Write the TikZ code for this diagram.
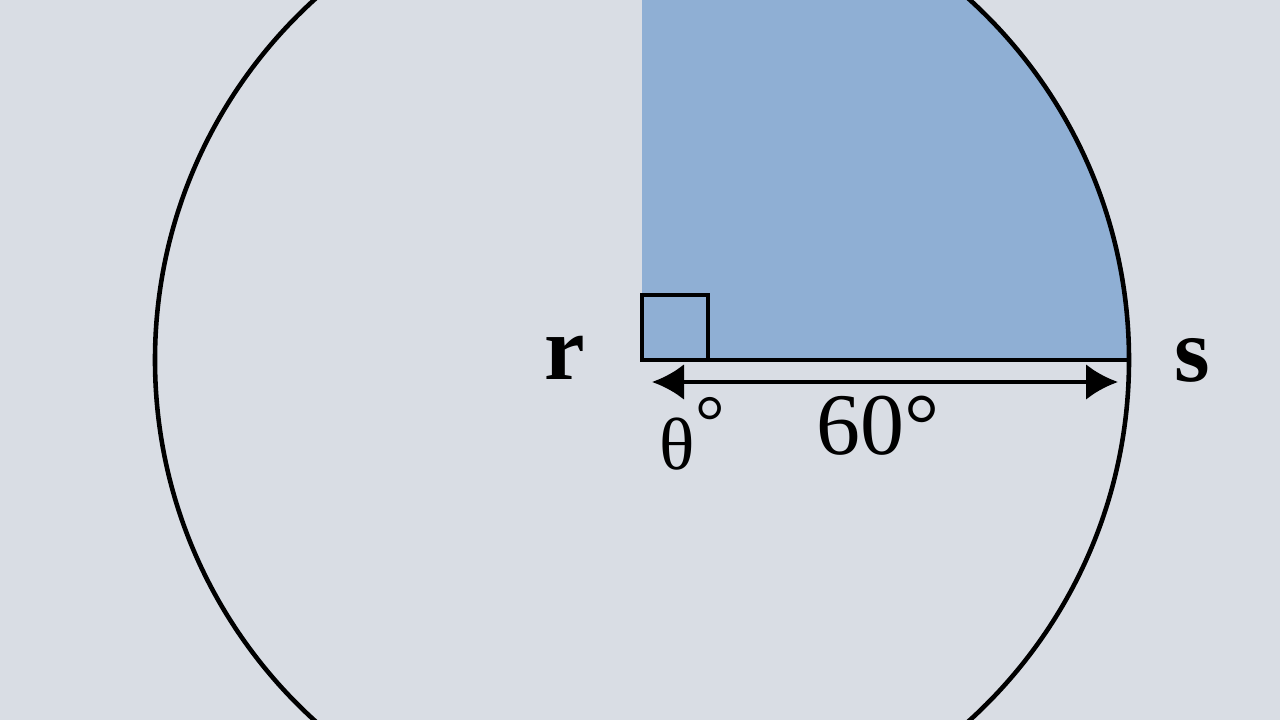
\documentclass[tikz,border=0pt]{standalone}
\usepackage{fontspec}
\setmainfont{Liberation Serif}
\usetikzlibrary{arrows.meta}
\definecolor{bgcol}{RGB}{217,221,228}
\definecolor{sectorcol}{RGB}{143,175,212}
\tikzset{
  edge/.style={line width=1.3pt, black},
  lbl/.style={inner sep=0pt}
}
\begin{document}
\begin{tikzpicture}
\coordinate[](O) at (0,0);
\coordinate[](S) at (4.87,0);
\coordinate[](L) at (0.10,-0.22);
\coordinate[](R) at (4.76,-0.22);
\useasboundingbox (-6.42,-3.6) rectangle (6.38,3.6);
\clip (-6.42,-3.6) rectangle (6.38,3.6);
\fill[bgcol] (-6.42,-3.6) rectangle (6.38,3.6);

\fill[sectorcol] (O) -- (S) arc (0:90:4.87) -- cycle;
\draw[edge] (O) circle (4.87);
\path[draw, edge] (O)--(S);
\draw[edge] (O) rectangle (0.66,0.65);
\draw[edge, {Latex[length=0.32cm, width=0.36cm]}-{Latex[length=0.32cm, width=0.36cm]}] (L)--(R);

\node[lbl, font=\fontsize{26}{28}\selectfont\bfseries] (r) at (-0.77,0.02) {r};
\node[lbl, font=\fontsize{26}{28}\selectfont\bfseries] (s) at (5.5,0.0) {s};
\node[lbl, font=\fontsize{21}{23}\selectfont, anchor=base west] (theta) at (0.17,-1.10) {θ\raisebox{0.32em}{°}};
\node[lbl, font=\fontsize{25}{27}\selectfont] (sixty) at (2.36,-0.66) {60°};
\end{tikzpicture}
\end{document}
